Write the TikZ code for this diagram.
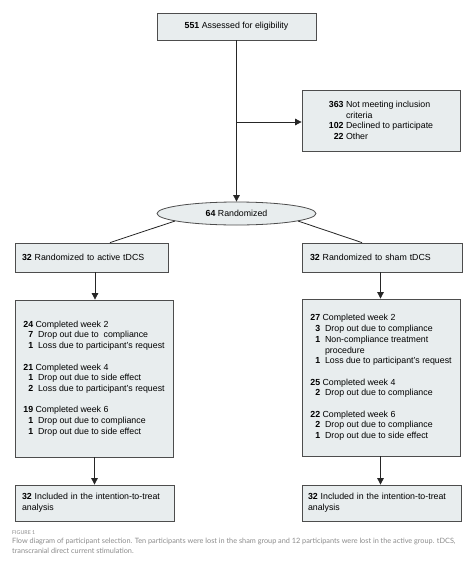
\documentclass[tikz,border=0pt]{standalone}
\usepackage{fontspec}
\setmainfont{Liberation Sans}
\newfontfamily\capfont{Lato}
\usetikzlibrary{arrows.meta,shapes.geometric}
\definecolor{boxfill}{HTML}{E8EDEE}
\definecolor{boxline}{HTML}{4D4D4D}
\definecolor{capgray}{HTML}{8C8C8C}
\newcommand{\flsub}[2]{\makebox[10pt][r]{\textbf{#1}}\hspace{4.7pt}#2}
\newcommand{\flside}[2]{\makebox[14.7pt][r]{\textbf{#1}}\hspace{2.45pt}#2}
\begin{document}
\begin{tikzpicture}[x=1pt,y=-1pt,
  font=\fontsize{8.8}{10.7}\selectfont,
  flbox/.style={draw=boxline, fill=boxfill, line width=0.8pt, rectangle, inner sep=0pt},
  lefttext/.style={align=left},
  conn/.style={draw=black!85, line width=0.8pt},
  arr/.style={conn, -{Triangle[length=6.5pt,width=6.5pt]}}]
\fill[white] (0,0) rectangle (474,565);
\useasboundingbox (0,0) rectangle (474,565);

\node[flbox, minimum width=159pt, minimum height=27pt] (top) at (236.5,26.5) {\textbf{551} Assessed for eligibility};

\node[flbox, minimum width=158pt, minimum height=61pt, lefttext] (side) at (381,120.5)
  {\flside{363}{Not meeting inclusion}\\
   \flside{}{criteria}\\
   \flside{102}{Declined to participate}\\
   \flside{22}{Other}};

\node[flbox, ellipse, minimum width=159pt, minimum height=23pt] (ell) at (236.5,213.5) {\textbf{64} Randomized};

\node[flbox, minimum height=29pt, text width=139pt, inner xsep=7pt, align=left] (lr) at (91.5,257.5) {\textbf{32} Randomized to active tDCS};
\node[flbox, minimum height=29pt, text width=144pt, inner xsep=8pt, align=left] (rr) at (382,257.5) {\textbf{32} Randomized to sham tDCS};

\node[flbox, minimum width=158pt, minimum height=157pt, lefttext] (lc) at (94,378.5)
  {\textbf{24} Completed week 2\\
   \flsub{7}{Drop out due to\ \ compliance}\\
   \flsub{1}{Loss due to participant’s request}\\[10.7pt]
   \textbf{21} Completed week 4\\
   \flsub{1}{Drop out due to side effect}\\
   \flsub{2}{Loss due to participant’s request}\\[10.7pt]
   \textbf{19} Completed week 6\\
   \flsub{1}{Drop out due to compliance}\\
   \flsub{1}{Drop out due to side effect}};

\node[flbox, minimum width=158pt, minimum height=157pt, lefttext] (rc) at (381,377.5)
  {\textbf{27} Completed week 2\\
   \flsub{3}{Drop out due to compliance}\\
   \flsub{1}{Non-compliance treatment}\\
   \flsub{}{procedure}\\
   \flsub{1}{Loss due to participant’s request}\\[10.7pt]
   \textbf{25} Completed week 4\\
   \flsub{2}{Drop out due to compliance}\\[10.7pt]
   \textbf{22} Completed week 6\\
   \flsub{2}{Drop out due to compliance}\\
   \flsub{1}{Drop out due to side effect}};

\node[flbox, minimum height=36pt, text width=145pt, inner xsep=7pt, align=left] (lb) at (94.5,503)
  {\textbf{32} Included in the intention-to-treat\\analysis};
\node[flbox, minimum height=36pt, text width=147pt, inner xsep=6pt, align=left] (rb) at (381.5,503)
  {\textbf{32} Included in the intention-to-treat\\analysis};

% connectors
\draw[arr] (top.south) -- (ell.north);
\coordinate (j) at (236.5,122);
\draw[arr] (j) -- (j -| side.west);
\draw[conn] (ell.187) -- ([xshift=18.5pt]lr.north);
\draw[conn] (ell.353) -- ([xshift=-20pt]rr.north);
\draw[arr] ([xshift=3.5pt]lr.south) -- ([xshift=3.5pt]lr.south |- lc.north);
\draw[arr] ([xshift=0.5pt]lc.south) -- ([xshift=0.5pt]lc.south |- lb.north);
\draw[arr] ([xshift=-1.5pt]rr.south) -- ([xshift=-1.5pt]rr.south |- rc.north);
\draw[arr] ([xshift=-0.5pt]rc.south) -- ([xshift=-0.5pt]rc.south |- rb.north);

% caption
\node[anchor=west, inner sep=0pt, text=capgray, font=\capfont\fontsize{5.3}{6}\selectfont] (figlab) at (12,533) {FIGURE 1};
\node[anchor=north west, inner sep=0pt, text=capgray, align=left, font=\capfont\fontsize{7.3}{10.8}\selectfont] (cap) at (12,537.5)
  {Flow diagram of participant selection. Ten participants were lost in the sham group and 12 participants were lost in the active group. tDCS,\\
   transcranial direct current stimulation.};
\end{tikzpicture}
\end{document}
